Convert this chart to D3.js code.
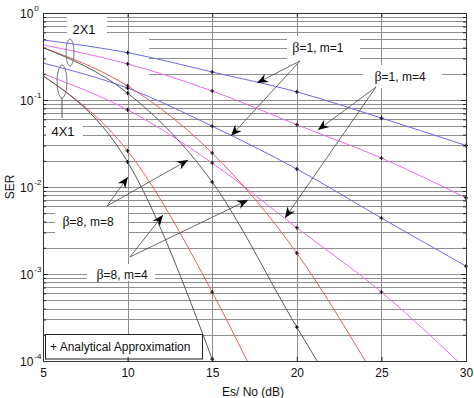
<!DOCTYPE html>
<html><head><meta charset="utf-8">
<script src="https://cdn.jsdelivr.net/npm/d3@7"></script>
<style>
body{margin:0;background:#fff}
svg{display:block}
text{font-family:"Liberation Sans",Arial,Helvetica,sans-serif;fill:#111}
</style>
</head><body>
<svg id="chart" width="474" height="398"></svg>
<script>
// ---------------- DATA ----------------
const xTickValues = [5, 10, 15, 20, 25, 30];
const yTickExponents = [0, -1, -2, -3, -4];
const xLabel = "Es/ No (dB)";
const yLabel = "SER";

// 2X1, beta=1, m=1 (blue)
const snr_2x1_b1m1 = [5, 10, 15, 20, 25, 30];
const ser_2x1_b1m1 = [0.49, 0.35, 0.21, 0.124, 0.062, 0.030];
// 2X1, beta=1, m=4 (magenta)
const snr_2x1_b1m4 = [5, 10, 15, 20, 25, 30];
const ser_2x1_b1m4 = [0.43, 0.26, 0.127, 0.052, 0.0215, 0.0075];
// 4X1, beta=1, m=1 (blue)
const snr_4x1_b1m1 = [5, 10, 15, 20, 25, 30];
const ser_4x1_b1m1 = [0.266, 0.137, 0.050, 0.0161, 0.0044, 0.00123];
// 4X1, beta=1, m=4 (magenta)
const snr_4x1_b1m4 = [5, 10, 15, 20, 25, 29.5];
const ser_4x1_b1m4 = [0.20, 0.077, 0.0189, 0.0034, 0.00062, 0.0001];
// 2X1, beta=8, m=4 (red)
const snr_2x1_b8m4 = [5, 10, 15, 20, 24.05];
const ser_2x1_b8m4 = [0.40, 0.145, 0.0246, 0.00174, 0.0001];
// 2X1, beta=8, m=8 (gray)
const snr_2x1_b8m8 = [5, 10, 15, 20, 21.2];
const ser_2x1_b8m8 = [0.40, 0.12, 0.0114, 0.000245, 0.0001];
// 4X1, beta=8, m=4 (red)
const snr_4x1_b8m4 = [5, 10, 15, 17.07];
const ser_4x1_b8m4 = [0.19, 0.026, 0.00062, 0.0001];
// 4X1, beta=8, m=8 (gray)
const snr_4x1_b8m8 = [5, 10, 15];
const ser_4x1_b8m8 = [0.19, 0.0194, 0.000105];

const seriesNames = ["2x1_b1m1","2x1_b1m4","4x1_b1m1","4x1_b1m4","2x1_b8m4","2x1_b8m8","4x1_b8m4","4x1_b8m8"];
const seriesColors = ["#6a6af0","#ec6cec","#6a6af0","#ec6cec","#ee5a5a","#5a5a5a","#ee5a5a","#5a5a5a"];
const seriesX = [snr_2x1_b1m1,snr_2x1_b1m4,snr_4x1_b1m1,snr_4x1_b1m4,snr_2x1_b8m4,snr_2x1_b8m8,snr_4x1_b8m4,snr_4x1_b8m8];
const seriesY = [ser_2x1_b1m1,ser_2x1_b1m4,ser_4x1_b1m1,ser_4x1_b1m4,ser_2x1_b8m4,ser_2x1_b8m8,ser_4x1_b8m4,ser_4x1_b8m8];

// Annotation labels (data coordinates: label centre, arrow origin, arrow tips)
const annLabels = [
  {beta:"β", rest:"=1, m=1", at:[21.25,0.40], from:[20.19,0.281], tips:[[17.65,0.157],[16.11,0.0386]]},
  {beta:"β", rest:"=1, m=4", at:[26.1,0.185], from:[24.68,0.141], tips:[[21.25,0.0452],[19.30,0.0044]]},
  {beta:"β", rest:"=8, m=8", at:[7.66,0.0040], from:[8.78,0.00605], tips:[[10.02,0.0130],[13.57,0.0204]]},
  {beta:"β", rest:"=8, m=4", at:[9.67,0.00098], from:[10.14,0.00157], tips:[[12.09,0.00477],[17.12,0.0071]]}
];
const legendText = "+ Analytical Approximation";

// ---------------- LAYOUT ----------------
const svg = d3.select("#chart");
const L = 43, R = 466, T = 13, B = 361;
const x = d3.scaleLinear().domain([5, 30]).range([L, R]);
const y = d3.scaleLog().domain([1e-4, 1]).range([B, T]);

const majorVals = yTickExponents.map(e => Math.pow(10, e));
const minorVals = [];
for (let e = -4; e < 0; e++) for (let k = 2; k <= 9; k++) minorVals.push(k * Math.pow(10, e));

const gridCol = "#8e8e8e";
// horizontal grid
const gH = svg.append("g");
gH.selectAll("line").data(majorVals.concat(minorVals)).join("line")
  .attr("x1", L).attr("x2", R)
  .attr("y1", d => Math.round(y(d)) + 0.5).attr("y2", d => Math.round(y(d)) + 0.5)
  .attr("stroke", gridCol).attr("stroke-width", 1);

// white region where upper-left gridlines are absent
svg.append("rect").attr("x", L + 1).attr("y", 36).attr("width", 105).attr("height", 60).attr("fill", "#fff");

// vertical grid
svg.append("g").selectAll("line").data([10, 15, 20, 25]).join("line")
  .attr("x1", d => Math.round(x(d)) + 0.5).attr("x2", d => Math.round(x(d)) + 0.5)
  .attr("y1", T).attr("y2", B).attr("stroke", gridCol).attr("stroke-width", 1);

// text-box backgrounds (white)
const boxes = [
  [67, 13, 40, 24],   // 2X1
  [44, 120, 39, 20],  // 4X1
  [287, 36, 73, 28],  // beta=1,m=1
  [363, 65, 79, 23],  // beta=1,m=4
  [55, 209, 73, 27],  // beta=8,m=8
  [87, 264, 68, 17]   // beta=8,m=4
];
svg.append("g").selectAll("rect").data(boxes).join("rect")
  .attr("x", d => d[0]).attr("y", d => d[1]).attr("width", d => d[2]).attr("height", d => d[3])
  .attr("fill", "#fff");

// curves
const line = d3.line().x(d => x(d[0])).y(d => y(d[1])).curve(d3.curveMonotoneX);
const gC = svg.append("g");
seriesNames.forEach((n, i) => {
  const pts = seriesX[i].map((v, j) => [v, seriesY[i][j]]);
  gC.append("path").datum(pts).attr("d", line).attr("fill", "none")
    .attr("stroke", seriesColors[i]).attr("stroke-width", 1);
  // analytical approximation markers
  pts.filter(p => p[0] > 5 && p[0] % 5 === 0 && p[1] >= 1e-4).forEach(p => {
    const px = x(p[0]), py = y(p[1]);
    gC.append("path").attr("d", `M${px-2},${py}H${px+2}M${px},${py-2}V${py+2}`)
      .attr("stroke", "#000").attr("stroke-width", 1);
  });
});

// ellipses and group labels
const gA = svg.append("g");
gA.append("ellipse").attr("cx", 70).attr("cy", 52.5).attr("rx", 4).attr("ry", 13.5)
  .attr("fill", "none").attr("stroke", "#777").attr("stroke-width", 1);
gA.append("ellipse").attr("cx", 62).attr("cy", 81.5).attr("rx", 5).attr("ry", 16.5)
  .attr("fill", "none").attr("stroke", "#777").attr("stroke-width", 1);
gA.append("line").attr("x1", 62).attr("x2", 62).attr("y1", 98).attr("y2", 118)
  .attr("stroke", "#555").attr("stroke-width", 1);
gA.append("text").attr("x", 84).attr("y", 34).attr("text-anchor", "middle")
  .attr("font-size", 13).text("2X1");
gA.append("text").attr("x", 63).attr("y", 136).attr("text-anchor", "middle")
  .attr("font-size", 13).text("4X1");

// arrow annotations
function arrowHead(g, sx, sy, tx, ty) {
  const dx = tx - sx, dy = ty - sy, len = Math.hypot(dx, dy);
  const ux = dx / len, uy = dy / len, nx = -uy, ny = ux;
  const Lh = 11, W = 4.5, notch = 3.5;
  const p = [
    [tx, ty],
    [tx - Lh * ux + W * nx, ty - Lh * uy + W * ny],
    [tx - (Lh - notch) * ux, ty - (Lh - notch) * uy],
    [tx - Lh * ux - W * nx, ty - Lh * uy - W * ny]
  ];
  g.append("path").attr("d", "M" + p.map(q => q.join(",")).join("L") + "Z").attr("fill", "#000");
}
annLabels.forEach(a => {
  const sx = x(a.from[0]), sy = y(a.from[1]);
  a.tips.forEach(t => {
    const tx = x(t[0]), ty = y(t[1]);
    gA.append("line").attr("x1", sx).attr("y1", sy).attr("x2", tx).attr("y2", ty)
      .attr("stroke", "#444").attr("stroke-width", 0.8);
    arrowHead(gA, sx, sy, tx, ty);
  });
  const t = gA.append("text").attr("x", x(a.at[0])).attr("y", y(a.at[1]) + 4.5)
    .attr("text-anchor", "middle").attr("font-size", 12);
  t.append("tspan").attr("font-family", "'Liberation Serif','Times New Roman',serif").attr("font-size", 14).text(a.beta);
  t.append("tspan").text(a.rest);
});

// legend box
const gL = svg.append("g");
gL.append("rect").attr("x", 45.5).attr("y", 334.5).attr("width", 157).attr("height", 24.5)
  .attr("fill", "#fff").attr("stroke", "#222").attr("stroke-width", 1);
gL.append("text").attr("x", 50).attr("y", 351).attr("font-size", 12).text(legendText);

// axes
const axX = d3.axisBottom(x).tickValues(xTickValues).tickSize(-4).tickPadding(7).tickFormat(d3.format("d"));
const gx = svg.append("g").attr("transform", `translate(0,${B})`).call(axX);
gx.select(".domain").remove();
gx.selectAll("text").attr("font-size", 12).attr("font-family", "'Liberation Sans',Arial,sans-serif").attr("fill", "#111");
gx.selectAll("line").attr("stroke", "#222");
const gxt = svg.append("g").attr("transform", `translate(0,${T})`).call(d3.axisTop(x).tickValues(xTickValues).tickSize(-4).tickFormat(""));
gxt.select(".domain").remove(); gxt.selectAll("line").attr("stroke", "#222");

const axY = d3.axisLeft(y).tickValues(majorVals).tickSize(-5).tickPadding(23).tickFormat("");
const gy = svg.append("g").attr("transform", `translate(${L},0)`).call(axY);
gy.select(".domain").remove();
gy.selectAll("line").attr("stroke", "#222");
gy.selectAll(".tick").each(function(d) {
  const e = Math.round(Math.log10(d));
  const t = d3.select(this).select("text").attr("text-anchor", "start").attr("x", -23)
    .attr("font-size", 12).attr("fill", "#111").attr("dy", "0.35em");
  t.append("tspan").text("10");
  t.append("tspan").attr("font-size", 8).attr("dy", "-0.9em").attr("dx", "1").text(String(e));
});
const gyMinor = svg.append("g").attr("transform", `translate(${L},0)`).call(d3.axisLeft(y).tickValues(minorVals).tickSize(-3).tickFormat(""));
gyMinor.select(".domain").remove(); gyMinor.selectAll("line").attr("stroke", "#222");
const gyR = svg.append("g").attr("transform", `translate(${R},0)`).call(d3.axisRight(y).tickValues(majorVals).tickSize(-5).tickFormat(""));
gyR.select(".domain").remove(); gyR.selectAll("line").attr("stroke", "#222");
const gyRm = svg.append("g").attr("transform", `translate(${R},0)`).call(d3.axisRight(y).tickValues(minorVals).tickSize(-3).tickFormat(""));
gyRm.select(".domain").remove(); gyRm.selectAll("line").attr("stroke", "#222");

// frame
svg.append("rect").attr("x", L + 0.5).attr("y", T + 0.5).attr("width", R - L).attr("height", B - T)
  .attr("fill", "none").attr("stroke", "#333").attr("stroke-width", 1);

// axis titles
svg.append("text").attr("x", 253).attr("y", 396).attr("text-anchor", "middle").attr("font-size", 12).text(xLabel);
svg.append("text").attr("transform", "translate(14,187) rotate(-90)").attr("text-anchor", "middle")
  .attr("font-size", 12).text(yLabel);
</script>
</body></html>
